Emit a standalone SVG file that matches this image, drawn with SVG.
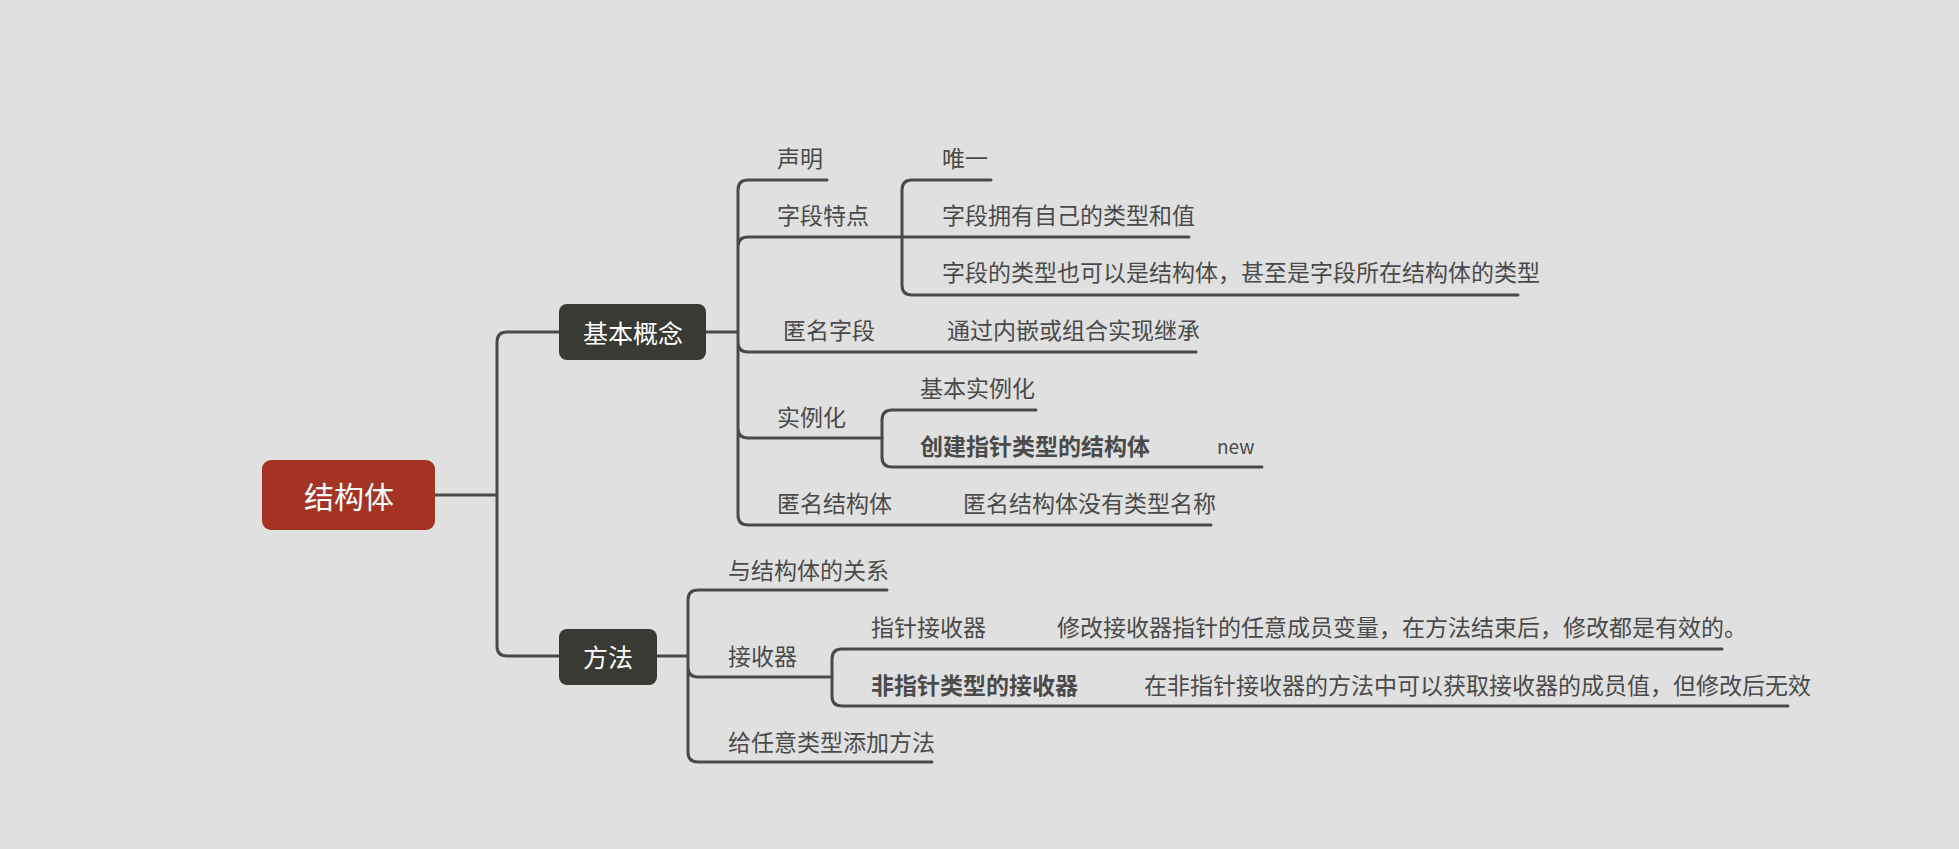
<svg xmlns="http://www.w3.org/2000/svg" width="1959" height="849" viewBox="0 0 1959 849">
<style>
.e{fill:none;stroke:#4a4a4a;stroke-width:3;stroke-linecap:round}
text{font-family:"Noto Sans CJK SC","Noto Sans",sans-serif;dominant-baseline:central}
.t{font-size:23px;fill:#4a4a4a}
.b{font-weight:bold}
.w{fill:#fff}
</style>
<rect width="1959" height="849" fill="#e0e0e0"/>
<g id="connectors">
<path class="e" d="M435,495 H497 M497,495 V342 Q497,332 507,332 H559 M497,495 V646 Q497,656 507,656 H559"/>
<path class="e" d="M706,332 H738 M738,332 V190 Q738,180 748,180 H827 M738,332 V247 Q738,237 748,237 H902 M738,332 V342 Q738,352 748,352 H1196 M738,332 V428 Q738,438 748,438 H882 M738,332 V515 Q738,525 748,525 H1211"/>
<path class="e" d="M902,237 V190 Q902,180 912,180 H991 M902,237 H1189 M902,237 V285 Q902,295 912,295 H1518"/>
<path class="e" d="M882,438 V420 Q882,410 892,410 H1036 M882,438 V457 Q882,467 892,467 H1262"/>
<path class="e" d="M657,656 H688 M688,656 V600 Q688,590 698,590 H887 M688,656 V667 Q688,677 698,677 H832 M688,656 V752 Q688,762 698,762 H932"/>
<path class="e" d="M832,677 V659 Q832,649 842,649 H1722 M832,677 V696 Q832,706 842,706 H1788"/>
</g>
<g id="root"><rect x="262" y="460" width="173" height="70" rx="9" fill="#a33323"/><text class="w" x="349" y="495" font-size="30" text-anchor="middle">结构体</text></g>
<g id="n1"><rect x="559" y="304" width="147" height="56" rx="8" fill="#393a33"/><text class="w" x="633" y="332" font-size="25" text-anchor="middle">基本概念</text></g>
<g id="n2"><rect x="559" y="629" width="98" height="56" rx="8" fill="#393a33"/><text class="w" x="608" y="656" font-size="25" text-anchor="middle">方法</text></g>
<g id="c1"><text class="t" x="777" y="157">声明</text></g>
<g id="c2"><text class="t" x="777" y="214">字段特点</text></g>
<g id="c21"><text class="t" x="942" y="157">唯一</text></g>
<g id="c22"><text class="t" x="942" y="214">字段拥有自己的类型和值</text></g>
<g id="c23"><text class="t" x="942" y="271">字段的类型也可以是结构体，甚至是字段所在结构体的类型</text></g>
<g id="c3"><text class="t" x="783" y="329">匿名字段</text><text class="t" x="947" y="329">通过内嵌或组合实现继承</text></g>
<g id="c4"><text class="t" x="777" y="416">实例化</text></g>
<g id="c41"><text class="t" x="920" y="387">基本实例化</text></g>
<g id="c42"><text class="t b" x="920" y="445">创建指针类型的结构体</text><text x="1217" y="445" font-size="19" fill="#4a4a4a">new</text></g>
<g id="c5"><text class="t" x="777" y="502">匿名结构体</text><text class="t" x="963" y="502">匿名结构体没有类型名称</text></g>
<g id="m1"><text class="t" x="728" y="569">与结构体的关系</text></g>
<g id="m2"><text class="t" x="728" y="655">接收器</text></g>
<g id="m21"><text class="t" x="871" y="626">指针接收器</text><text class="t" x="1057" y="626">修改接收器指针的任意成员变量，在方法结束后，修改都是有效的。</text></g>
<g id="m22"><text class="t b" x="871" y="684">非指针类型的接收器</text><text class="t" x="1144" y="684">在非指针接收器的方法中可以获取接收器的成员值，但修改后无效</text></g>
<g id="m3"><text class="t" x="728" y="741">给任意类型添加方法</text></g>
</svg>
